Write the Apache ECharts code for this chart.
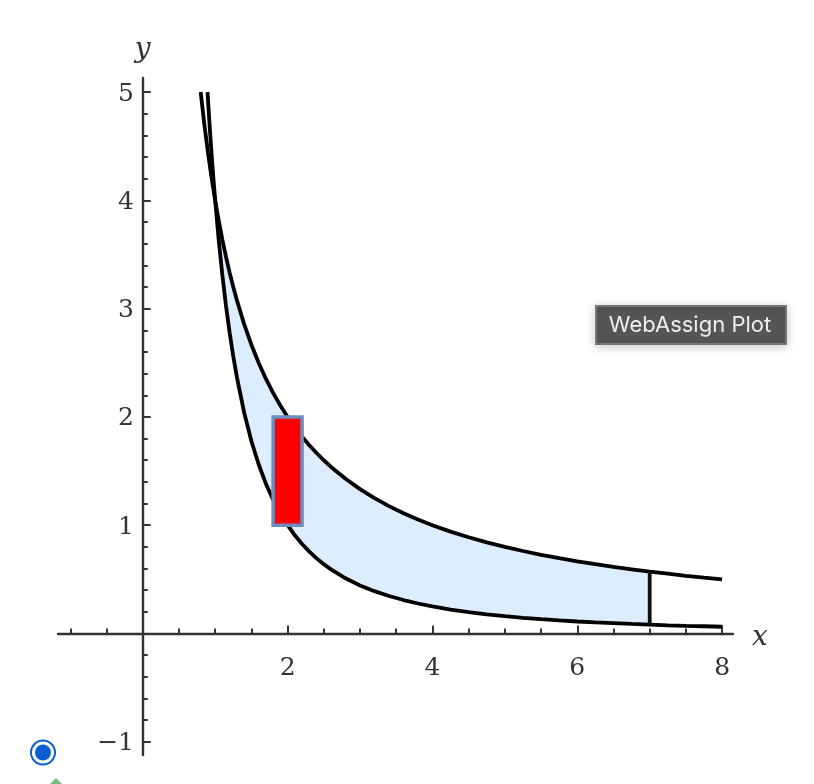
<!DOCTYPE html>
<html>
<head>
<meta charset="utf-8">
<style>
html, body { margin: 0; padding: 0; background: #fff; }
#main { width: 814px; height: 784px; }
</style>
<script src="https://cdn.jsdelivr.net/npm/echarts@6/dist/echarts.min.js"></script>
</head>
<body>
<div id="main"></div>
<script>
// values
var upperX = [0.8, 0.85, 0.9, 0.95, 1, 1.05, 1.1, 1.15, 1.2, 1.25, 1.3, 1.4, 1.5, 1.6, 1.7, 1.8, 1.9, 2, 2.1, 2.2, 2.3, 2.4, 2.5, 2.6, 2.8, 3, 3.2, 3.4, 3.6, 3.8, 4, 4.25, 4.5, 4.75, 5, 5.25, 5.5, 5.75, 6, 6.25, 6.5, 6.75, 7, 7.25, 7.5, 7.75, 8];
var upperY = [5, 4.706, 4.444, 4.211, 4, 3.81, 3.636, 3.478, 3.333, 3.2, 3.077, 2.857, 2.667, 2.5, 2.353, 2.222, 2.105, 2, 1.905, 1.818, 1.739, 1.667, 1.6, 1.538, 1.429, 1.333, 1.25, 1.176, 1.111, 1.053, 1, 0.941, 0.889, 0.842, 0.8, 0.762, 0.727, 0.696, 0.667, 0.64, 0.615, 0.593, 0.571, 0.552, 0.533, 0.516, 0.5];
var lowerX = [0.895, 0.91, 0.93, 0.96, 1, 1.05, 1.1, 1.15, 1.2, 1.25, 1.3, 1.4, 1.5, 1.6, 1.7, 1.8, 1.9, 2, 2.1, 2.2, 2.3, 2.4, 2.5, 2.6, 2.8, 3, 3.2, 3.4, 3.6, 3.8, 4, 4.25, 4.5, 4.75, 5, 5.25, 5.5, 5.75, 6, 6.25, 6.5, 6.75, 7, 7.25, 7.5, 7.75, 8];
var lowerY = [5, 4.83, 4.625, 4.34, 4, 3.628, 3.306, 3.025, 2.778, 2.56, 2.367, 2.041, 1.778, 1.563, 1.384, 1.235, 1.108, 1, 0.907, 0.826, 0.756, 0.694, 0.64, 0.592, 0.51, 0.444, 0.391, 0.346, 0.309, 0.277, 0.25, 0.221, 0.198, 0.177, 0.16, 0.145, 0.132, 0.121, 0.111, 0.102, 0.095, 0.088, 0.082, 0.076, 0.071, 0.067, 0.0625];
var regionStart = 4;   // index where both curves meet (x = 1)
var regionEnd = 42;    // index of x = 7
var wallX = [7, 7];
var wallY = [0.082, 0.571];
var stripX = [1.8, 2.2];
var stripY = [1, 2];

var xMajorTicks = [2, 4, 6, 8];
var xMinorTicks = [-1, -0.5, 0.5, 1, 1.5, 2.5, 3, 3.5, 4.5, 5, 5.5, 6.5, 7, 7.5];
var yMajorTicks = [-1, 1, 2, 3, 4, 5];
var yMinorTicks = [-0.8, -0.6, -0.4, -0.2, 0.2, 0.4, 0.6, 0.8, 1.2, 1.4, 1.6, 1.8, 2.2, 2.4, 2.6, 2.8, 3.2, 3.4, 3.6, 3.8, 4.2, 4.4, 4.6, 4.8];

var labelFont = '"DejaVu Serif", serif';
var axisColor = '#333';

function pairs(xs, ys) {
    return xs.map(function (v, i) { return [v, ys[i]]; });
}

function majorAxis(ticks, name, pos, min, max, margin, nameGap, labelExtra, nameExtra) {
    return {
        type: 'value',
        position: pos,
        min: min,
        max: max,
        name: name,
        nameLocation: 'end',
        nameGap: nameGap,
        nameTextStyle: Object.assign({ fontFamily: labelFont, fontStyle: 'italic', fontSize: 28, color: '#333' }, nameExtra),
        splitLine: { show: false },
        axisLine: { show: true, onZero: true, onZeroAxisIndex: 0, lineStyle: { color: axisColor, width: 2.4 } },
        axisTick: { show: true, inside: true, length: 8, customValues: ticks, lineStyle: { color: axisColor, width: 2 } },
        axisLabel: Object.assign({
            show: true, margin: margin, customValues: ticks, showMinLabel: true, showMaxLabel: true,
            fontFamily: labelFont, fontSize: 25, color: '#333',
            formatter: function (v) { return v < 0 ? '\u2212' + (-v) : '' + v; }
        }, labelExtra)
    };
}

function minorAxis(ticks, pos, min, max) {
    return {
        type: 'value',
        position: pos,
        min: min,
        max: max,
        splitLine: { show: false },
        axisLine: { show: false, onZero: true, onZeroAxisIndex: 0 },
        axisTick: { show: true, inside: true, length: 5, customValues: ticks, lineStyle: { color: axisColor, width: 2 } },
        axisLabel: { show: false }
    };
}

var myChart = echarts.init(document.getElementById('main'), null, { renderer: 'canvas' });

var option = {
    animation: false,
    backgroundColor: '#fff',
    grid: { left: 58, right: 81, top: 78, bottom: 29, containLabel: false, outerBoundsMode: 'none' },
    xAxis: [
        // labels sit at the grid edge by default, negative margin pulls them back to the zero line
        majorAxis(xMajorTicks, 'x', 'bottom', -1.17, 8.15, -99, 19, {}, { verticalAlign: 'top', lineHeight: 8 }),
        minorAxis(xMinorTicks, 'bottom', -1.17, 8.15)
    ],
    yAxis: [
        majorAxis(yMajorTicks, 'y', 'left', -1.122, 5.13, -76, 14, { verticalAlign: 'top', lineHeight: 4 }, {}),
        minorAxis(yMinorTicks, 'left', -1.122, 5.13)
    ],
    series: [
        {
            // shaded region between the curves
            type: 'custom',
            z: 2,
            silent: true,
            data: [[0]],
            renderItem: function (params, api) {
                var pts = [];
                var i;
                for (i = regionStart; i <= regionEnd; i++) {
                    pts.push(api.coord([upperX[i], upperY[i]]));
                }
                for (i = regionEnd; i >= regionStart; i--) {
                    pts.push(api.coord([lowerX[i], lowerY[i]]));
                }
                return {
                    type: 'polygon',
                    shape: { points: pts },
                    style: { fill: '#dcedfe' }
                };
            }
        },
        {
            type: 'line', z: 3, showSymbol: false, silent: true,
            data: pairs(upperX, upperY),
            lineStyle: { color: '#000', width: 3.8 }
        },
        {
            type: 'line', z: 3, showSymbol: false, silent: true,
            data: pairs(lowerX, lowerY),
            lineStyle: { color: '#000', width: 3.8 }
        },
        {
            type: 'line', z: 3, showSymbol: false, silent: true,
            data: pairs(wallX, wallY),
            lineStyle: { color: '#111', width: 3.8 }
        },
        {
            // red sample rectangle
            type: 'custom',
            z: 4,
            silent: true,
            data: [[0]],
            renderItem: function (params, api) {
                var a = api.coord([stripX[0], stripY[1]]);
                var b = api.coord([stripX[1], stripY[0]]);
                return {
                    type: 'rect',
                    shape: { x: a[0], y: a[1], width: b[0] - a[0], height: b[1] - a[1] },
                    style: { fill: '#ff0000', stroke: '#6d8cc0', lineWidth: 3.5 }
                };
            }
        }
    ],
    graphic: [
        {
            type: 'rect',
            shape: { x: 596, y: 306, width: 190, height: 38 },
            style: { fill: '#555', stroke: '#777', lineWidth: 2, shadowBlur: 10, shadowColor: 'rgba(0,0,0,0.2)', shadowOffsetY: 2 },
            z: 10
        },
        {
            type: 'text',
            x: 690, y: 325,
            style: { text: 'WebAssign Plot', fill: '#eee', font: '22px Inter, sans-serif', align: 'center', verticalAlign: 'middle' },
            z: 11
        },
        {
            type: 'circle',
            shape: { cx: 43, cy: 752.5, r: 12 },
            style: { fill: '#fff', stroke: '#0a5fd0', lineWidth: 2 },
            z: 10
        },
        {
            type: 'circle',
            shape: { cx: 43, cy: 752.5, r: 8 },
            style: { fill: '#0a5fd0' },
            z: 11
        },
        {
            type: 'polygon',
            shape: { points: [[50, 784], [56, 778], [62, 784]] },
            style: { fill: '#7cba7c' },
            z: 10
        }
    ]
};

myChart.setOption(option);
</script>
</body>
</html>
